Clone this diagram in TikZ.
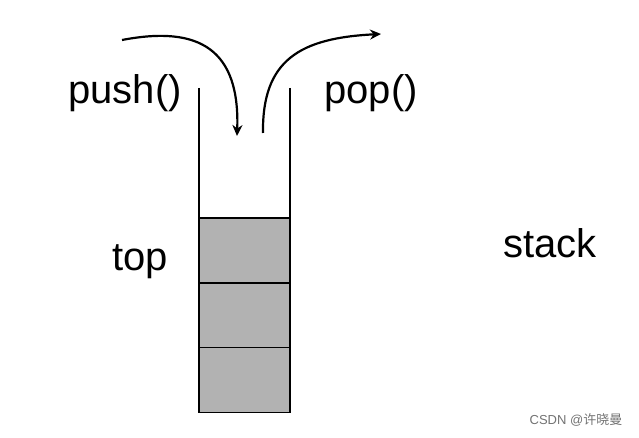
\documentclass[tikz,border=0pt]{standalone}
\usepackage{fontspec}
\usetikzlibrary{arrows.meta}
\setmainfont{Liberation Sans}
\newfontfamily\cjk{Noto Sans CJK SC}
\begin{document}
\begin{tikzpicture}[x=1pt,y=-1pt,
  cell/.style={draw=black,line width=1.5pt,fill=black!30,minimum width=91pt,minimum height=65pt,inner sep=0pt,outer sep=0pt},
  lbl/.style={font=\fontsize{40}{44}\selectfont,inner sep=0pt},
  arr/.style={line width=2.2pt,-{Stealth[length=11pt,width=10pt]}}]
\useasboundingbox (0,0) rectangle (639,438);
\fill[white] (0,0) rectangle (639,438);
\node[cell] (c1) at (244.5,250.5) {};
\node[cell] (c2) at (244.5,315.5) {};
\node[cell] (c3) at (244.5,380) {};
\coordinate (lt) at (199,88);
\coordinate (rt) at (290,88);
\draw[line width=1.5pt] (lt) -- (c1.north west) (rt) -- (c1.north east);
\node[lbl] (push) at (125,93) {push()};
\node[lbl] (pop) at (371,93) {pop()};
\node[lbl] (top) at (140,262) {top};
\node[lbl] (stack) at (550,243) {stack};
\node[font=\fontsize{13}{15}\selectfont,text=black!55,inner sep=0pt] (w) at (576,420) {CSDN @{\cjk 许晓曼}};
\coordinate (a1) at (122,40);
\coordinate (a2) at (237,136);
\coordinate (b1) at (263,133);
\coordinate (b2) at (381,34);
\draw[arr] (a1) .. controls (200,25) and (240,50) .. (a2);
\draw[arr] (b1) .. controls (262,60) and (300,38) .. (b2);
\end{tikzpicture}
\end{document}
